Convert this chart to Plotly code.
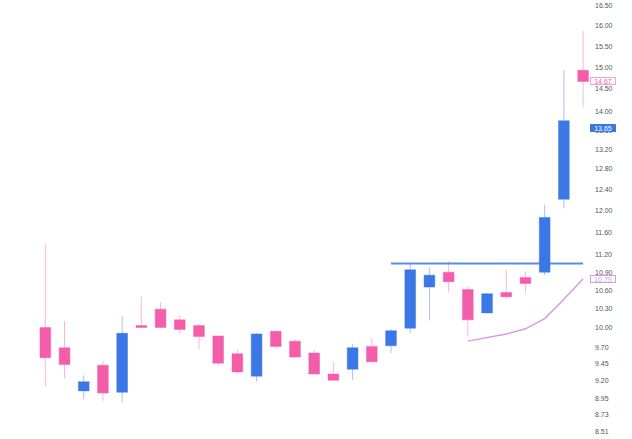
import plotly.graph_objects as go
import math

# ---- data ----
opens  = [10.00, 9.69, 9.06, 9.43, 9.04, 10.03, 10.29, 10.12, 10.03, 9.87,
          9.60, 9.27, 9.94, 9.79, 9.61, 9.30, 9.37, 9.71, 9.72, 9.99,
          10.65, 10.90, 10.61, 10.23, 10.56, 10.81, 10.90, 12.21, 14.93]
highs  = [11.40, 10.10, 9.28, 9.49, 10.18, 10.49, 10.40, 10.19, 10.06, 9.87,
          9.66, 9.91, 9.95, 9.82, 9.66, 9.48, 9.75, 9.83, 9.98, 11.04,
          10.98, 11.09, 10.67, 10.55, 10.94, 10.92, 12.11, 14.93, 15.87]
lows   = [9.12, 9.24, 8.95, 8.92, 8.90, 9.99, 9.99, 9.90, 9.67, 9.42,
          9.30, 9.19, 9.67, 9.54, 9.30, 9.21, 9.22, 9.48, 9.61, 9.92,
          10.11, 10.56, 9.86, 10.23, 10.45, 10.55, 10.85, 12.04, 14.09]
closes = [9.54, 9.44, 9.19, 9.03, 9.91, 10.00, 10.00, 9.97, 9.86, 9.46,
          9.33, 9.90, 9.71, 9.55, 9.30, 9.21, 9.69, 9.48, 9.95, 10.94,
          10.85, 10.74, 10.12, 10.54, 10.49, 10.71, 11.87, 13.80, 14.67]
bar_index = list(range(len(opens)))

ma_index = [22, 23, 24, 25, 26, 27, 28]
ma_values = [9.79, 9.84, 9.90, 9.98, 10.14, 10.45, 10.79]

level_index = [18, 28]
level_values = [11.05, 11.05]

tick_values = [16.50, 16.00, 15.50, 15.00, 14.50, 14.00, 13.60, 13.20, 12.80,
               12.40, 12.00, 11.60, 11.20, 10.90, 10.60, 10.30, 10.00, 9.70,
               9.45, 9.20, 8.95, 8.73, 8.51]
tick_labels = [f"{v:.2f}" for v in tick_values]

last_price = 14.67
blue_label = 13.65
ma_label = 10.79

# ---- styles ----
PINK = "#F45DAA"
PINK_LINE = "rgba(244,93,170,0.45)"
BLUE = "#3B78E6"
BLUE_LINE = "rgba(59,120,230,0.45)"
VIOLET = "#D89BE3"
FONT = "Arial"

fig = go.Figure()
fig.add_trace(go.Candlestick(
    x=bar_index, open=opens, high=highs, low=lows, close=closes,
    increasing=dict(fillcolor=BLUE, line=dict(color=BLUE_LINE, width=1)),
    decreasing=dict(fillcolor=PINK, line=dict(color=PINK_LINE, width=1)),
    whiskerwidth=0, hoverinfo="skip", showlegend=False,
))
fig.add_trace(go.Scatter(
    x=level_index, y=level_values, mode="lines",
    line=dict(color="rgba(59,120,230,0.85)", width=2),
    hoverinfo="skip", showlegend=False,
))
fig.add_trace(go.Scatter(
    x=ma_index, y=ma_values, mode="lines",
    line=dict(color=VIOLET, width=1.5),
    hoverinfo="skip", showlegend=False,
))

def price_tag(value, text_color, bg, border):
    return dict(
        xref="paper", x=1, xanchor="left", xshift=0,
        yref="y", y=math.log10(value), yanchor="middle",
        text=f"{value:.2f}", showarrow=False,
        font=dict(family=FONT, size=7, color=text_color),
        bgcolor=bg, bordercolor=border, borderwidth=1, borderpad=0,
        width=24, height=6, align="center",
    )

fig.update_layout(
    width=632, height=439,
    margin=dict(l=0, r=42, t=0, b=0),
    paper_bgcolor="white", plot_bgcolor="white",
    boxgap=0.2,
    xaxis=dict(range=[-2.36, 28.36], visible=False,
               rangeslider=dict(visible=False), fixedrange=True),
    yaxis=dict(type="log", side="right",
               range=[0.924579, 1.221543],
               tickvals=tick_values, ticktext=tick_labels,
               tickfont=dict(family=FONT, size=7, color="#555555"),
               showgrid=False, zeroline=False, showline=False,
               ticks="", ticklabelstandoff=4, fixedrange=True),
    annotations=[
        price_tag(last_price, PINK, "white", "rgba(244,93,170,0.6)"),
        price_tag(blue_label, "white", BLUE, BLUE),
        price_tag(ma_label, VIOLET, "white", VIOLET),
    ],
)

fig.write_html(
    "out.html",
    config={"displayModeBar": False},
    post_script="document.body.style.margin='0';document.body.style.overflow='hidden';",
)
